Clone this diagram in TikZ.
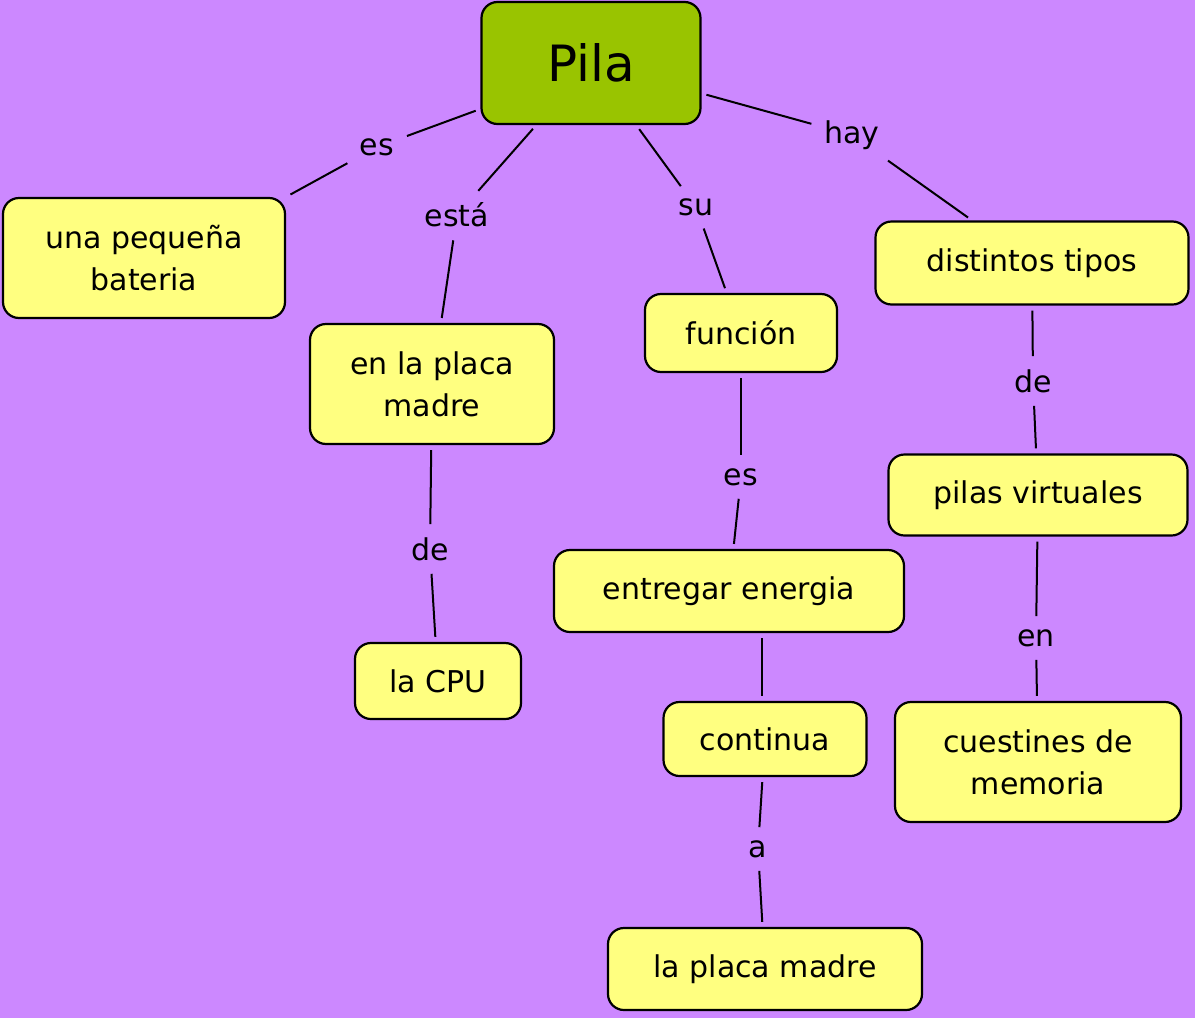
\documentclass[tikz,border=0pt]{standalone}
\usepackage{fontspec}
\setmainfont{DejaVu Sans}
\begin{document}
\begin{tikzpicture}[x=1pt,y=-1pt,
  box/.style={draw=black,line width=2.2pt,rounded corners=16pt,fill=boxy,align=center,font=\fontsize{30}{42}\selectfont,inner sep=0pt},
  lab/.style={font=\fontsize{30}{36}\selectfont,inner sep=8pt},
  con/.style={line width=2pt,shorten <=5pt,shorten >=5pt}]
\definecolor{bg}{HTML}{CC88FF}
\definecolor{boxy}{HTML}{FFFF80}
\definecolor{gr}{HTML}{99C400}
\fill[bg] (0,0) rectangle (1195,1018);
\useasboundingbox (0,0) rectangle (1195,1018);
\node[box,fill=gr,minimum width=219pt,minimum height=122pt,font=\fontsize{50}{55}\selectfont] (pila) at (591,63) {Pila};
\node[box,minimum width=282pt,minimum height=120pt] (una) at (144,258) {una pequeña\\bateria};
\node[box,minimum width=244pt,minimum height=120pt] (placa) at (432,384) {en la placa\\madre};
\node[box,minimum width=166pt,minimum height=76pt] (cpu) at (438,681) {la CPU};
\node[box,minimum width=192pt,minimum height=78pt] (fun) at (741,333) {función};
\node[box,minimum width=350pt,minimum height=82pt] (ent) at (729,591) {entregar energia};
\node[box,minimum width=203pt,minimum height=74pt] (cont) at (765,739) {continua};
\node[box,minimum width=314pt,minimum height=82pt] (lpm) at (765,969) {la placa madre};
\node[box,minimum width=313pt,minimum height=83pt] (dt) at (1032,263) {distintos tipos};
\node[box,minimum width=299pt,minimum height=81pt] (pv) at (1038,495) {pilas virtuales};
\node[box,minimum width=286pt,minimum height=120pt] (cm) at (1038,762) {cuestines de\\memoria};
\node[lab] (l1) at (377,147) {es};
\node[lab] (l2) at (457,215) {está};
\node[lab] (l3) at (696,207) {su};
\node[lab] (l4) at (852,135) {hay};
\node[lab] (l5) at (430,549) {de};
\node[lab] (l6) at (741,477) {es};
\node[lab] (l7) at (758,849) {a};
\node[lab] (l8) at (1033,381) {de};
\node[lab] (l9) at (1036,638) {en};
\coordinate (l10) at (762,667);
\draw[con] (pila.west|-0,109) -- (l1); \draw[con] (l1) -- (una.north east);
\draw[con] (pila) -- (l2); \draw[con] (l2) -- (placa);
\draw[con] (pila) -- (l3); \draw[con] (l3) -- (fun);
\draw[con] (pila) -- (l4); \draw[con] (l4) -- (dt);
\draw[con] (placa) -- (l5); \draw[con] (l5) -- (cpu);
\draw[con] (fun) -- (l6); \draw[con] (l6) -- (ent);
\draw[con] (ent.south-|762,0) -- (cont.north-|762,0);
\draw[con] (cont) -- (l7); \draw[con] (l7) -- (lpm);
\draw[con] (dt) -- (l8); \draw[con] (l8) -- (pv);
\draw[con] (pv) -- (l9); \draw[con] (l9) -- (cm);
\end{tikzpicture}
\end{document}
